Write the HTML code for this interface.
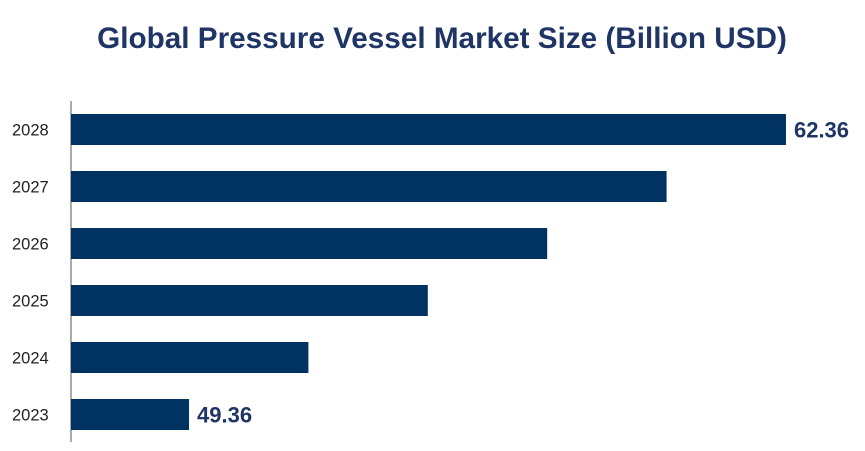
<!DOCTYPE html>
<html><head><meta charset="utf-8"><style>
body{margin:0;background:#fff;}
svg{display:block;font-family:"Liberation Sans",sans-serif;}
</style></head><body>
<svg id="chart" width="865" height="451">
<text x="442" y="48" text-anchor="middle" font-size="29.7" font-weight="bold" fill="#1f3566">Global Pressure Vessel Market Size (Billion USD)</text>
<line x1="71" y1="101" x2="71" y2="442" stroke="#555" stroke-width="1"/>
<g id="bars"></g>
</svg>
<script>
const categories = ["2023","2024","2025","2026","2027","2028"];
const values = [49.36, 51.96, 54.56, 57.16, 59.76, 62.36];
const shownLabels = ["49.36","","","","","62.36"];
const ns="http://www.w3.org/2000/svg";
const g=document.getElementById('bars');
const xMin=46.79, x0=71, pxPerUnit=45.92;
function xScale(v){return x0+(v-xMin)*pxPerUnit;}
const bandTop=101, band=57, barH=31;
function yScale(i){
  const idx=categories.length-1-i;
  return bandTop+13+idx*band;
}
categories.forEach((c,i)=>{
  const y=yScale(i);
  const r=document.createElementNS(ns,'rect');
  r.setAttribute('x',x0);r.setAttribute('y',y);
  r.setAttribute('width',xScale(values[i])-x0);r.setAttribute('height',barH);
  r.setAttribute('fill','#003361');
  
  
  g.appendChild(r);
  const t=document.createElementNS(ns,'text');
  t.setAttribute('x',12);t.setAttribute('y',y+barH/2+6);
  t.setAttribute('font-size','16.5');t.setAttribute('fill','#222');
  t.textContent=c;
  
  
  g.appendChild(t);
  if(shownLabels[i]){
    const l=document.createElementNS(ns,'text');
    l.setAttribute('x',xScale(values[i])+8);l.setAttribute('y',y+barH/2+8);
    l.setAttribute('font-size','22');l.setAttribute('font-weight','bold');l.setAttribute('fill','#1f3566');
    l.textContent=shownLabels[i];
    
    
    g.appendChild(l);
  }
});
</script>
</body></html>
